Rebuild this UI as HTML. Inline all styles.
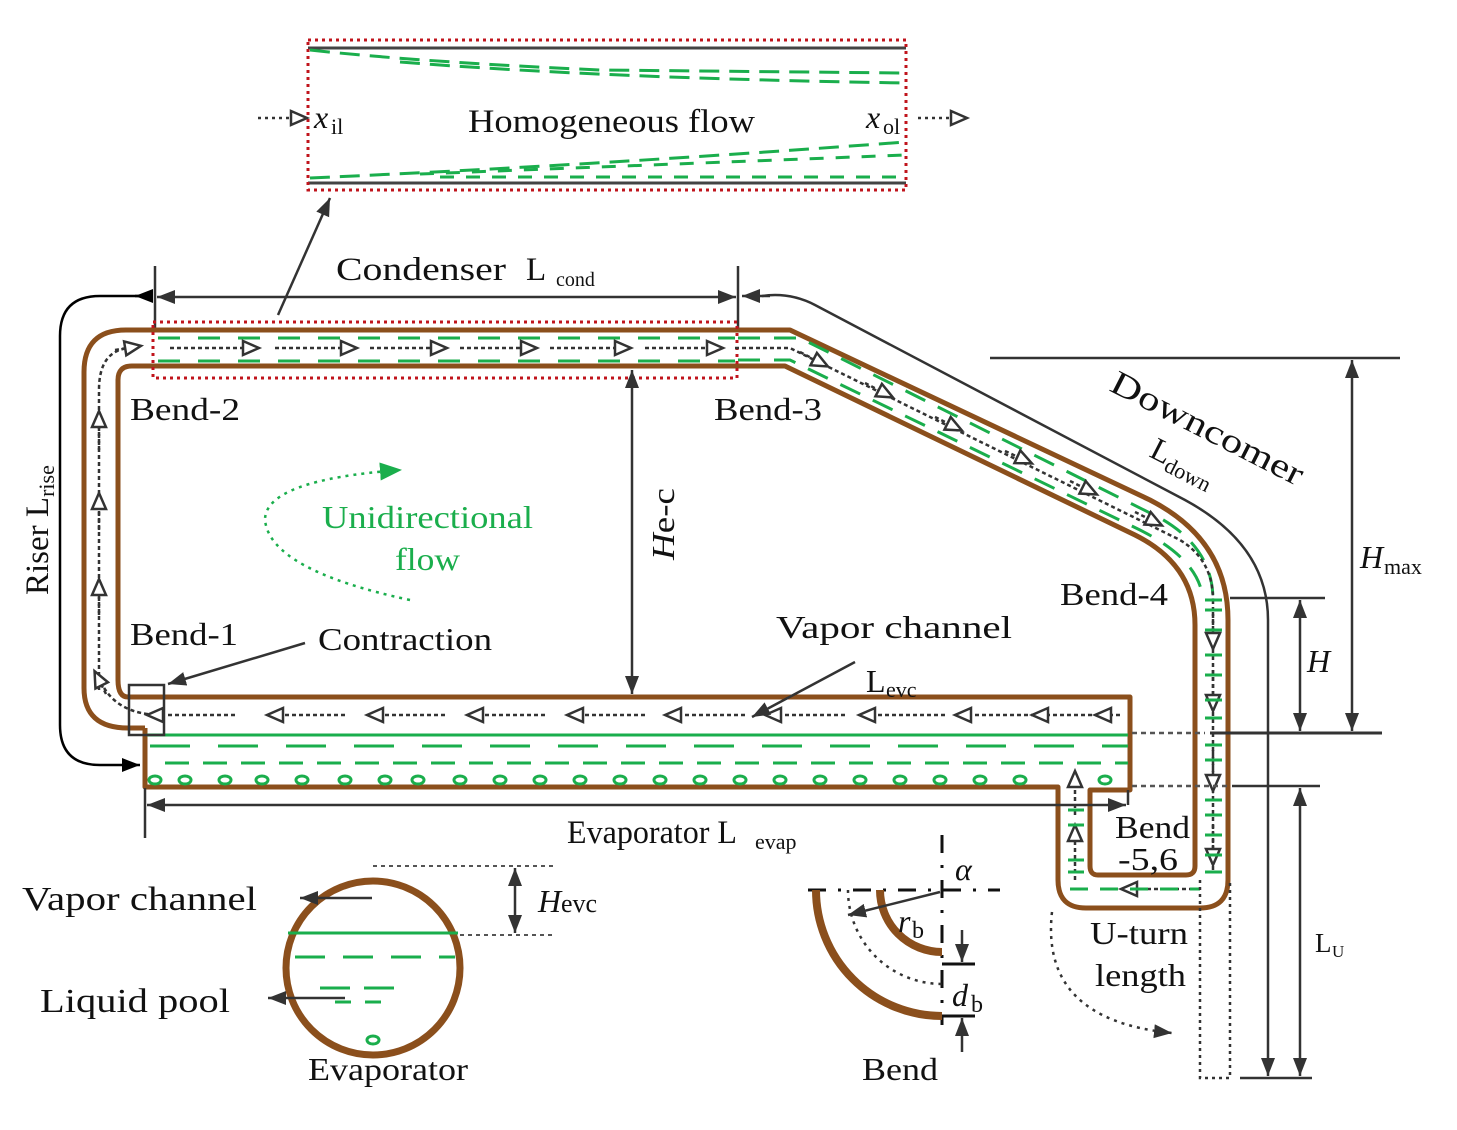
<!DOCTYPE html>
<html><head><meta charset="utf-8"><style>
html,body{margin:0;padding:0;background:#fff;width:1457px;height:1130px;overflow:hidden}
text{font-family:"Liberation Serif",serif;fill:#111}
</style></head><body>
<svg width="1457" height="1130" viewBox="0 0 1457 1130" xmlns="http://www.w3.org/2000/svg">
<defs>
<marker id="open" markerUnits="userSpaceOnUse" markerWidth="22" markerHeight="22" refX="17" refY="10" orient="auto"><path d="M2,3 L18,10 L2,17 Z" fill="#fff" stroke="#333" stroke-width="2.5"/></marker>
<marker id="solid" markerUnits="userSpaceOnUse" markerWidth="20" markerHeight="16" refX="18" refY="8" orient="auto"><path d="M0,1 L18,8 L0,15 Z" fill="#333"/></marker>
<marker id="solidk" markerUnits="userSpaceOnUse" markerWidth="20" markerHeight="16" refX="18" refY="8" orient="auto"><path d="M0,1 L18,8 L0,15 Z" fill="#000"/></marker>
<marker id="solidstart" markerUnits="userSpaceOnUse" markerWidth="20" markerHeight="16" refX="0" refY="8" orient="auto"><path d="M18,1 L0,8 L18,15 Z" fill="#333"/></marker>
<marker id="green" markerUnits="userSpaceOnUse" markerWidth="24" markerHeight="20" refX="20" refY="9" orient="auto"><path d="M0,0 L22,9 L0,18 Z" fill="#1aae4c"/></marker>
</defs>

<line x1="308" y1="48" x2="906" y2="48" stroke="#444" stroke-width="3"/>
<line x1="308" y1="183" x2="906" y2="183" stroke="#444" stroke-width="3"/>
<path d="M310,50 Q420,62 600,70 L905,73" fill="none" stroke="#1aae4c" stroke-width="3" stroke-dasharray="20,10"/>
<path d="M400,62 Q600,78 905,83" fill="none" stroke="#1aae4c" stroke-width="3" stroke-dasharray="20,10"/>
<path d="M310,178 Q600,165 905,142" fill="none" stroke="#1aae4c" stroke-width="3" stroke-dasharray="20,10"/>
<path d="M420,174 Q650,165 905,155" fill="none" stroke="#1aae4c" stroke-width="3" stroke-dasharray="14,12"/>
<line x1="440" y1="177" x2="905" y2="177" stroke="#1aae4c" stroke-width="3" stroke-dasharray="14,12"/>
<rect x="308" y="40" width="598" height="150" fill="none" stroke="#c0141c" stroke-width="3" stroke-dasharray="3,4"/>
<line x1="258" y1="118" x2="306" y2="118" stroke="#333" stroke-width="2.5" stroke-dasharray="3,4" marker-end="url(#open)"/>
<line x1="918" y1="118" x2="966" y2="118" stroke="#333" stroke-width="2.5" stroke-dasharray="3,4" marker-end="url(#open)"/>
<text x="314" y="128" font-size="32" font-style="italic">x</text><text x="331" y="134" font-size="22">il</text>
<text x="866" y="128" font-size="32" font-style="italic">x</text><text x="883" y="134" font-size="22">ol</text>
<text x="468" y="132" font-size="33" textLength="287" lengthAdjust="spacingAndGlyphs">Homogeneous flow</text>
<line x1="278" y1="315" x2="330" y2="198" stroke="#333" stroke-width="2.5" marker-end="url(#solid)"/>

<line x1="155" y1="266" x2="155" y2="330" stroke="#333" stroke-width="2.5"/>
<line x1="738" y1="266" x2="738" y2="330" stroke="#333" stroke-width="2.5"/>
<line x1="157" y1="297" x2="736" y2="297" stroke="#333" stroke-width="2.5" marker-start="url(#solidstart)" marker-end="url(#solid)"/>
<text x="336" y="280" font-size="33" textLength="170" lengthAdjust="spacingAndGlyphs">Condenser</text><text x="526" y="280" font-size="33">L</text><text x="556" y="286" font-size="20">cond</text>
<path d="M150,296 L100,296 Q60,296 60,336 L60,725 Q60,765 100,765 L140,765" fill="none" stroke="#000" stroke-width="2.5" marker-end="url(#solidk)"/>
<path d="M150,296 L135,296" stroke="#000" stroke-width="2.5" marker-end="url(#solidk)"/>
<path d="M762,296 Q790,292 815,305 L1185,500 Q1268,545 1268,620 L1268,1076" fill="none" stroke="#333" stroke-width="2.5" marker-end="url(#solid)"/>
<path d="M770,296 L742,296" stroke="#333" stroke-width="2.5" marker-end="url(#solid)"/>

<g fill="none" stroke="#8b4f1c" stroke-width="5" stroke-linejoin="round">
<path d="M145,728 L128,728 Q84,728 84,688 L84,372 Q84,330 126,330 L790,330 L1150,500 Q1228,540 1228,620 L1228,880 Q1228,908 1200,908 L1086,908 Q1058,908 1058,880 L1058,787 L145,787 L145,728"/>
<path d="M128,697 Q118,697 118,680 L118,380 Q118,366 132,366 L785,366 L1135,535 Q1195,565 1195,625 L1195,866 Q1195,875 1186,875 L1098,875 Q1090,875 1090,866 L1090,790 L1130,790 L1130,697 Z"/>
</g>
<line x1="158" y1="338" x2="735" y2="338" stroke="#1aae4c" stroke-width="3" stroke-dasharray="22,18"/>
<line x1="158" y1="361" x2="735" y2="361" stroke="#1aae4c" stroke-width="3" stroke-dasharray="22,18"/>
<path d="M738,338 L800,338 L1160,518 Q1213,548 1213,600" fill="none" stroke="#1aae4c" stroke-width="3" stroke-dasharray="22,14"/>
<path d="M738,360 L790,360 L1140,530 Q1200,560 1203,600" fill="none" stroke="#1aae4c" stroke-width="3" stroke-dasharray="22,14"/>
<rect x="153" y="322" width="584" height="56" fill="none" stroke="#c0141c" stroke-width="3" stroke-dasharray="3,4"/>
<g stroke="#333" stroke-width="2.5" stroke-dasharray="4,3" fill="none">
<line x1="170" y1="348" x2="258" y2="348" marker-end="url(#open)"/>
<line x1="275" y1="348" x2="356" y2="348" marker-end="url(#open)"/>
<line x1="370" y1="348" x2="446" y2="348" marker-end="url(#open)"/>
<line x1="460" y1="348" x2="536" y2="348" marker-end="url(#open)"/>
<line x1="550" y1="348" x2="630" y2="348" marker-end="url(#open)"/>
<line x1="645" y1="348" x2="722" y2="348" marker-end="url(#open)"/>
<path d="M735,348 L790,348 L1180,540 Q1213,560 1213,600" />
<line x1="800" y1="352" x2="827" y2="366" marker-end="url(#open)"/>
<line x1="865" y1="383" x2="892" y2="397" marker-end="url(#open)"/>
<line x1="935" y1="417" x2="961" y2="430" marker-end="url(#open)"/>
<line x1="1005" y1="451" x2="1031" y2="463" marker-end="url(#open)"/>
<line x1="1070" y1="481" x2="1096" y2="494" marker-end="url(#open)"/>
<line x1="1135" y1="512" x2="1161" y2="525" marker-end="url(#open)"/>
<path d="M99,690 L99,390 Q99,350 130,348"/>
<line x1="99" y1="450" x2="99" y2="412" marker-end="url(#open)"/>
<line x1="99" y1="530" x2="99" y2="494" marker-end="url(#open)"/>
<line x1="99" y1="615" x2="99" y2="580" marker-end="url(#open)"/>
<line x1="115" y1="350" x2="140" y2="346" marker-end="url(#open)"/>
<path d="M162,715 Q115,715 100,680" />
<line x1="106" y1="694" x2="95" y2="672" marker-end="url(#open)"/>
<line x1="235" y1="715" x2="148" y2="715" marker-end="url(#open)"/>
<line x1="345" y1="715" x2="268" y2="715" marker-end="url(#open)"/>
<line x1="445" y1="715" x2="368" y2="715" marker-end="url(#open)"/>
<line x1="545" y1="715" x2="468" y2="715" marker-end="url(#open)"/>
<line x1="645" y1="715" x2="568" y2="715" marker-end="url(#open)"/>
<line x1="745" y1="715" x2="666" y2="715" marker-end="url(#open)"/>
<line x1="845" y1="715" x2="766" y2="715" marker-end="url(#open)"/>
<line x1="945" y1="715" x2="860" y2="715" marker-end="url(#open)"/>
<line x1="1035" y1="715" x2="956" y2="715" marker-end="url(#open)"/>
<line x1="1092" y1="715" x2="1033" y2="715" marker-end="url(#open)"/>
<line x1="1120" y1="715" x2="1096" y2="715" marker-end="url(#open)"/>
<line x1="1213" y1="600" x2="1213" y2="870"/>
<line x1="1213" y1="612" x2="1213" y2="648" marker-end="url(#open)"/>
<line x1="1213" y1="670" x2="1213" y2="710" marker-end="url(#open)"/>
<line x1="1213" y1="750" x2="1213" y2="790" marker-end="url(#open)"/>
<line x1="1213" y1="825" x2="1213" y2="864" marker-end="url(#open)"/>
<line x1="1200" y1="889" x2="1122" y2="889" marker-end="url(#open)"/>
<line x1="1075" y1="880" x2="1075" y2="826" marker-end="url(#open)"/>
<line x1="1075" y1="815" x2="1075" y2="772" marker-end="url(#open)"/>
</g>
<g stroke="#1aae4c" stroke-width="3">
<line x1="1205" y1="600" x2="1222" y2="600"/><line x1="1205" y1="610" x2="1222" y2="610"/><line x1="1205" y1="630" x2="1222" y2="630"/><line x1="1205" y1="655" x2="1222" y2="655"/><line x1="1205" y1="675" x2="1222" y2="675"/><line x1="1205" y1="700" x2="1222" y2="700"/><line x1="1205" y1="718" x2="1222" y2="718"/><line x1="1205" y1="745" x2="1222" y2="745"/><line x1="1205" y1="760" x2="1222" y2="760"/><line x1="1205" y1="800" x2="1222" y2="800"/><line x1="1205" y1="815" x2="1222" y2="815"/><line x1="1205" y1="835" x2="1222" y2="835"/><line x1="1205" y1="855" x2="1222" y2="855"/><line x1="1205" y1="872" x2="1222" y2="872"/>
<line x1="1068" y1="810" x2="1084" y2="810"/><line x1="1068" y1="825" x2="1084" y2="825"/><line x1="1068" y1="860" x2="1084" y2="860"/><line x1="1068" y1="872" x2="1084" y2="872"/>
</g>
<line x1="1070" y1="889" x2="1200" y2="889" stroke="#1aae4c" stroke-width="3" stroke-dasharray="18,12"/>
<line x1="147" y1="735" x2="1128" y2="735" stroke="#1aae4c" stroke-width="3"/>
<line x1="150" y1="746" x2="1128" y2="746" stroke="#1aae4c" stroke-width="3" stroke-dasharray="40,28"/>
<line x1="165" y1="763" x2="1128" y2="763" stroke="#1aae4c" stroke-width="3" stroke-dasharray="24,14"/>
<g fill="none" stroke="#1aae4c" stroke-width="3">
<ellipse cx="155" cy="780" rx="6" ry="4"/><ellipse cx="185" cy="780" rx="6" ry="4"/><ellipse cx="225" cy="780" rx="6" ry="4"/><ellipse cx="262" cy="780" rx="6" ry="4"/><ellipse cx="302" cy="780" rx="6" ry="4"/><ellipse cx="345" cy="780" rx="6" ry="4"/><ellipse cx="385" cy="780" rx="6" ry="4"/><ellipse cx="418" cy="780" rx="6" ry="4"/><ellipse cx="460" cy="780" rx="6" ry="4"/><ellipse cx="500" cy="780" rx="6" ry="4"/><ellipse cx="540" cy="780" rx="6" ry="4"/><ellipse cx="580" cy="780" rx="6" ry="4"/><ellipse cx="620" cy="780" rx="6" ry="4"/><ellipse cx="660" cy="780" rx="6" ry="4"/><ellipse cx="700" cy="780" rx="6" ry="4"/><ellipse cx="740" cy="780" rx="6" ry="4"/><ellipse cx="780" cy="780" rx="6" ry="4"/><ellipse cx="820" cy="780" rx="6" ry="4"/><ellipse cx="860" cy="780" rx="6" ry="4"/><ellipse cx="900" cy="780" rx="6" ry="4"/><ellipse cx="940" cy="780" rx="6" ry="4"/><ellipse cx="980" cy="780" rx="6" ry="4"/><ellipse cx="1020" cy="780" rx="6" ry="4"/><ellipse cx="1105" cy="780" rx="6" ry="4"/>
</g>
<rect x="129" y="685" width="35" height="50" fill="none" stroke="#333" stroke-width="2.5"/>
<line x1="305" y1="643" x2="168" y2="684" stroke="#333" stroke-width="2.5" marker-end="url(#solid)"/>
<text x="318" y="650" font-size="32" textLength="174" lengthAdjust="spacingAndGlyphs">Contraction</text>
<line x1="855" y1="662" x2="752" y2="717" stroke="#333" stroke-width="2.5" marker-end="url(#solid)"/>
<text x="776" y="638" font-size="32" textLength="236" lengthAdjust="spacingAndGlyphs">Vapor channel</text>
<text x="866" y="692" font-size="32">L</text><text x="886" y="697" font-size="22">evc</text>

<line x1="632" y1="370" x2="632" y2="694" stroke="#333" stroke-width="2.5" marker-start="url(#solidstart)" marker-end="url(#solid)"/>
<text transform="translate(674,560) rotate(-90)" font-size="32" textLength="72" lengthAdjust="spacingAndGlyphs"><tspan font-style="italic">H</tspan>e-c</text>

<text x="130" y="420" font-size="32" textLength="110" lengthAdjust="spacingAndGlyphs">Bend-2</text>
<text x="714" y="420" font-size="32" textLength="108" lengthAdjust="spacingAndGlyphs">Bend-3</text>
<text x="130" y="645" font-size="32" textLength="108" lengthAdjust="spacingAndGlyphs">Bend-1</text>
<text x="1060" y="605" font-size="32" textLength="108" lengthAdjust="spacingAndGlyphs">Bend-4</text>
<text x="1115" y="838" font-size="32" textLength="75" lengthAdjust="spacingAndGlyphs">Bend</text>
<text x="1118" y="870" font-size="32" textLength="60" lengthAdjust="spacingAndGlyphs">-5,6</text>
<text x="1090" y="944" font-size="32" textLength="98" lengthAdjust="spacingAndGlyphs">U-turn</text>
<text x="1095" y="986" font-size="32" textLength="91" lengthAdjust="spacingAndGlyphs">length</text>
<text transform="translate(48,595) rotate(-90)" font-size="33">Riser  L<tspan font-size="22" dy="6">rise</tspan></text>
<text transform="translate(1108,390) rotate(27)" font-size="34" textLength="212" lengthAdjust="spacingAndGlyphs">Downcomer</text>
<text transform="translate(1148,456) rotate(27)" font-size="32">L<tspan font-size="22" dy="6">down</tspan></text>
<text x="322" y="528" font-size="32" style="fill:#1aae4c" textLength="211" lengthAdjust="spacingAndGlyphs">Unidirectional</text>
<text x="395" y="570" font-size="32" style="fill:#1aae4c" textLength="65" lengthAdjust="spacingAndGlyphs">flow</text>
<path d="M410,600 Q270,570 265,520 Q265,480 400,470" fill="none" stroke="#1aae4c" stroke-width="2.5" stroke-dasharray="3,5" marker-end="url(#green)"/>
<text x="567" y="843" font-size="33" textLength="170" lengthAdjust="spacingAndGlyphs">Evaporator L</text><text x="755" y="849" font-size="22">evap</text>
<line x1="145" y1="788" x2="145" y2="838" stroke="#333" stroke-width="2.5"/>
<line x1="1128" y1="790" x2="1128" y2="805" stroke="#333" stroke-width="2.5"/>
<line x1="147" y1="805" x2="1126" y2="805" stroke="#333" stroke-width="2.5" marker-start="url(#solidstart)" marker-end="url(#solid)"/>

<line x1="990" y1="358" x2="1400" y2="358" stroke="#333" stroke-width="2.5"/>
<line x1="1352" y1="360" x2="1352" y2="731" stroke="#333" stroke-width="2.5" marker-start="url(#solidstart)" marker-end="url(#solid)"/>
<text x="1360" y="568" font-size="32" font-style="italic">H</text><text x="1384" y="574" font-size="22">max</text>
<line x1="1210" y1="733" x2="1382" y2="733" stroke="#333" stroke-width="3"/>
<line x1="1230" y1="598" x2="1325" y2="598" stroke="#333" stroke-width="2.5"/>
<line x1="1300" y1="600" x2="1300" y2="731" stroke="#333" stroke-width="2.5" marker-start="url(#solidstart)" marker-end="url(#solid)"/>
<text x="1307" y="672" font-size="32" font-style="italic">H</text>
<line x1="1232" y1="786" x2="1320" y2="786" stroke="#333" stroke-width="2.5"/>
<line x1="1300" y1="788" x2="1300" y2="1076" stroke="#333" stroke-width="2.5" marker-start="url(#solidstart)" marker-end="url(#solid)"/>
<line x1="1240" y1="1078" x2="1312" y2="1078" stroke="#333" stroke-width="2.5"/>
<text x="1315" y="952" font-size="27">L</text><text x="1332" y="957" font-size="17">U</text>
<line x1="1132" y1="733" x2="1205" y2="733" stroke="#555" stroke-width="2.5" stroke-dasharray="5,4"/>
<line x1="1132" y1="786" x2="1230" y2="786" stroke="#555" stroke-width="2.5" stroke-dasharray="5,4"/>
<path d="M1200,880 L1200,1078 L1230,1078 L1230,880" fill="none" stroke="#333" stroke-width="2.5" stroke-dasharray="3,4"/>
<path d="M1052,912 Q1040,1020 1172,1033" fill="none" stroke="#333" stroke-width="2.5" stroke-dasharray="3,5" marker-end="url(#solid)"/>

<circle cx="373" cy="968" r="87" fill="none" stroke="#8b4f1c" stroke-width="7"/>
<line x1="288" y1="933" x2="458" y2="933" stroke="#1aae4c" stroke-width="3"/>
<line x1="295" y1="957" x2="455" y2="957" stroke="#1aae4c" stroke-width="3" stroke-dasharray="30,18"/>
<line x1="320" y1="988" x2="400" y2="988" stroke="#1aae4c" stroke-width="3" stroke-dasharray="30,14"/>
<line x1="335" y1="1002" x2="390" y2="1002" stroke="#1aae4c" stroke-width="3" stroke-dasharray="16,14"/>
<ellipse cx="373" cy="1040" rx="6" ry="4" fill="none" stroke="#1aae4c" stroke-width="3"/>
<line x1="373" y1="866" x2="553" y2="866" stroke="#555" stroke-width="2" stroke-dasharray="4,4"/>
<line x1="460" y1="935" x2="553" y2="935" stroke="#555" stroke-width="2" stroke-dasharray="4,4"/>
<line x1="515" y1="868" x2="515" y2="933" stroke="#333" stroke-width="2.5" marker-start="url(#solidstart)" marker-end="url(#solid)"/>
<text x="538" y="912" font-size="32" font-style="italic">H</text><text x="561" y="912" font-size="26">evc</text>
<line x1="372" y1="898" x2="300" y2="898" stroke="#333" stroke-width="2.5" marker-end="url(#solid)"/>
<text x="22" y="910" font-size="34" textLength="235" lengthAdjust="spacingAndGlyphs">Vapor channel</text>
<line x1="345" y1="998" x2="268" y2="998" stroke="#333" stroke-width="2.5" marker-end="url(#solid)"/>
<text x="40" y="1012" font-size="34" textLength="190" lengthAdjust="spacingAndGlyphs">Liquid pool</text>
<text x="308" y="1080" font-size="32" textLength="160" lengthAdjust="spacingAndGlyphs">Evaporator</text>

<line x1="808" y1="890" x2="1000" y2="890" stroke="#111" stroke-width="3" stroke-dasharray="18,12,3,12"/>
<line x1="942" y1="835" x2="942" y2="1025" stroke="#111" stroke-width="3" stroke-dasharray="18,12,3,12"/>
<path d="M880,890 A62,62 0 0 0 942,952" fill="none" stroke="#8b4f1c" stroke-width="8"/>
<path d="M816,890 A126,126 0 0 0 942,1016" fill="none" stroke="#8b4f1c" stroke-width="8"/>
<path d="M848,890 A94,94 0 0 0 942,984" fill="none" stroke="#333" stroke-width="2.5" stroke-dasharray="3,5"/>
<line x1="940" y1="892" x2="848" y2="915" stroke="#333" stroke-width="2.5" marker-end="url(#solid)"/>
<text x="898" y="932" font-size="32" font-style="italic">r</text><text x="912" y="938" font-size="24">b</text>
<text x="955" y="880" font-size="32" font-style="italic">α</text>
<line x1="942" y1="964" x2="975" y2="964" stroke="#111" stroke-width="3"/>
<line x1="942" y1="1016" x2="975" y2="1016" stroke="#111" stroke-width="3"/>
<line x1="962" y1="930" x2="962" y2="962" stroke="#333" stroke-width="2.5" marker-end="url(#solid)"/>
<line x1="962" y1="1052" x2="962" y2="1018" stroke="#333" stroke-width="2.5" marker-end="url(#solid)"/>
<text x="952" y="1006" font-size="32" font-style="italic">d</text><text x="971" y="1012" font-size="24">b</text>
<text x="862" y="1080" font-size="32" textLength="76" lengthAdjust="spacingAndGlyphs">Bend</text>
</svg>
</body></html>
